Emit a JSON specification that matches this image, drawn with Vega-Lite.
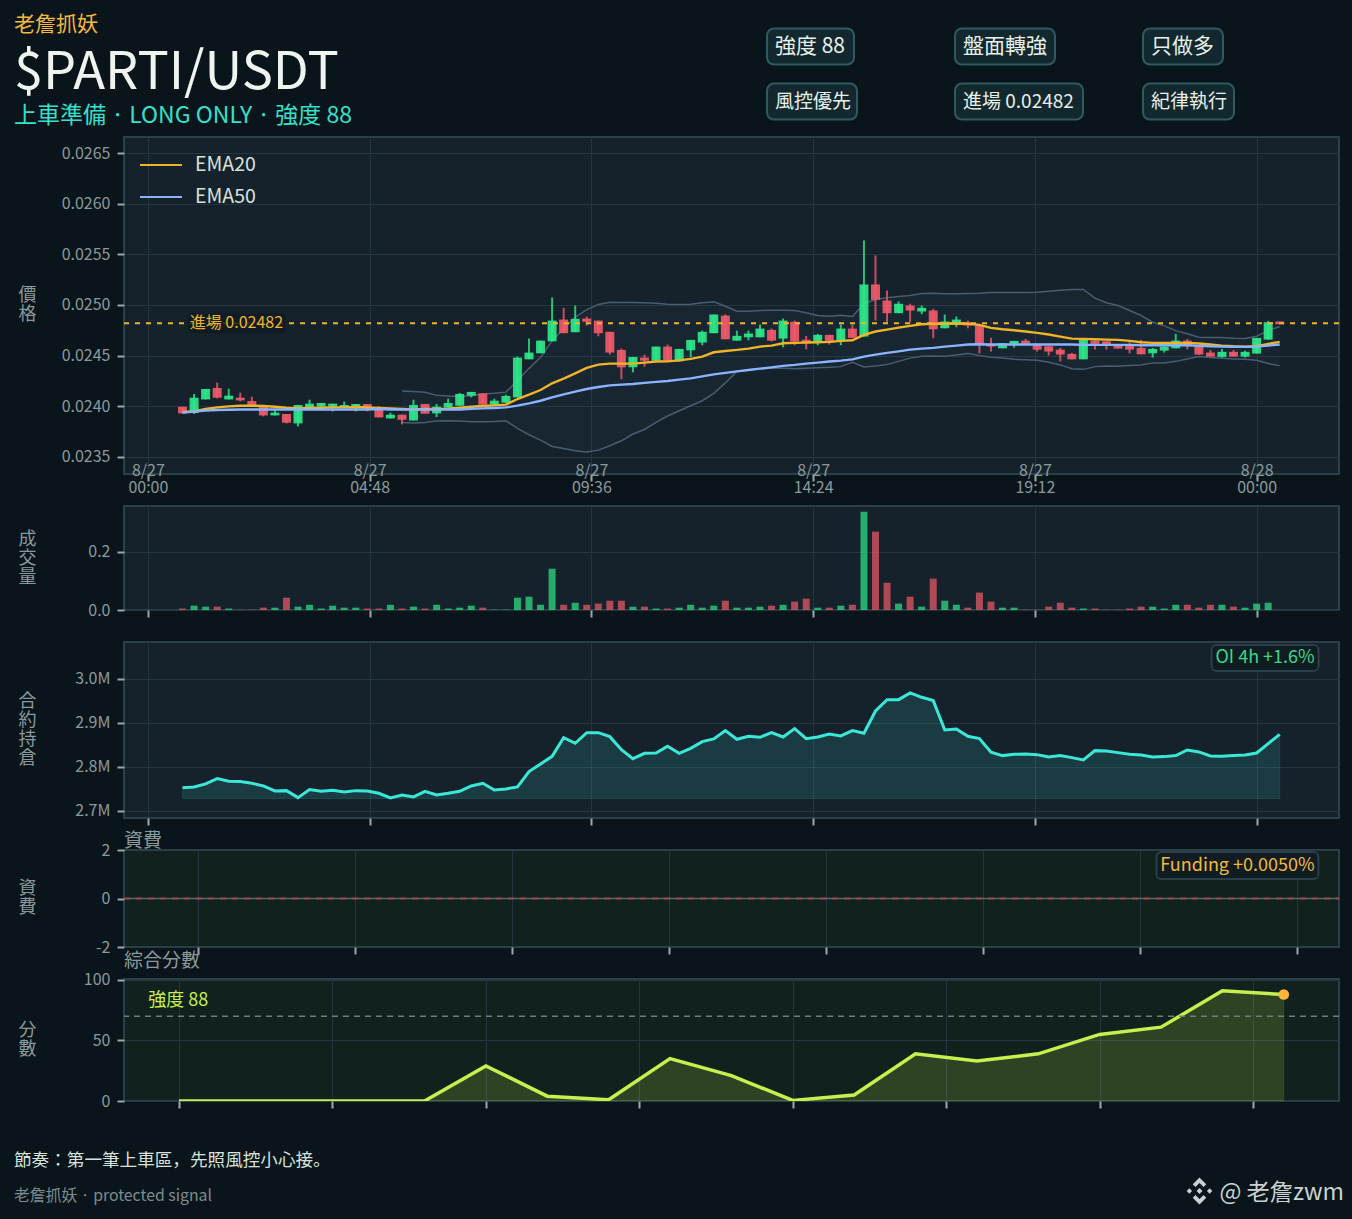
{
  "$schema": "https://vega.github.io/schema/vega-lite/v6.json",
  "background": "#0a141b",
  "padding": {"left": 14, "top": 0, "right": 8, "bottom": 0},
  "bounds": "flush",
  "spacing": 32,
  "config": {
    "font": "Noto Sans CJK JP",
    "view": {"fill": "#15222b", "stroke": "#2a3f47", "strokeWidth": 2},
    "axis": {
      "domain": false,
      "labelColor": "#8a9a9c",
      "labelFontSize": 16,
      "labelPadding": 7,
      "tickColor": "#9aa8a8",
      "tickSize": 7,
      "tickWidth": 2,
      "gridColor": "#233640",
      "gridWidth": 1,
      "titleColor": "#8a9a9c",
      "titleFontSize": 18,
      "titleFontWeight": "normal",
      "titleLineHeight": 19,
      "labelOverlap": false,
      "labelBound": false,
      "labelFlush": false
    },
    "axisY": {"titleAngle": 0, "titleX": -97, "titleAlign": "center", "titleBaseline": "middle"},
    "title": {"anchor": "start", "frame": "group", "fontSize": 19, "fontWeight": "normal", "color": "#8a9a9c"}
  },
  "datasets": {
    "bars": [
      {"t":"2025-08-27T00:45","o":0.023995,"h":0.023995,"l":0.023929,"c":0.023929,"v":0.005,"e20":0.023943,"e50":0.023936,"oi":2.753},
      {"t":"2025-08-27T01:00","o":0.023933,"h":0.024121,"l":0.023923,"c":0.024084,"v":0.015,"e20":0.023948,"e50":0.023948,"oi":2.7545},
      {"t":"2025-08-27T01:15","o":0.024067,"h":0.02417,"l":0.024067,"c":0.02417,"v":0.0115,"e20":0.023972,"e50":0.023958,"oi":2.7614},
      {"t":"2025-08-27T01:30","o":0.02418,"h":0.024233,"l":0.024077,"c":0.024084,"v":0.0115,"e20":0.023988,"e50":0.023962,"oi":2.7735},
      {"t":"2025-08-27T01:45","o":0.024067,"h":0.024173,"l":0.024067,"c":0.024104,"v":0.005,"e20":0.023998,"e50":0.023965,"oi":2.7674},
      {"t":"2025-08-27T02:00","o":0.024084,"h":0.024134,"l":0.024047,"c":0.024057,"v":0.001,"e20":0.024005,"e50":0.023968,"oi":2.7667},
      {"t":"2025-08-27T02:15","o":0.024051,"h":0.024094,"l":0.023995,"c":0.024002,"v":0.001,"e20":0.024005,"e50":0.023968,"oi":2.7629},
      {"t":"2025-08-27T02:30","o":0.024008,"h":0.024008,"l":0.023899,"c":0.023909,"v":0.008,"e20":0.024002,"e50":0.023968,"oi":2.7568},
      {"t":"2025-08-27T02:45","o":0.023909,"h":0.023962,"l":0.023909,"c":0.023936,"v":0.008,"e20":0.023995,"e50":0.023968,"oi":2.7455},
      {"t":"2025-08-27T03:00","o":0.023923,"h":0.023923,"l":0.02383,"c":0.023837,"v":0.0425,"e20":0.023985,"e50":0.023968,"oi":2.7462},
      {"t":"2025-08-27T03:15","o":0.02383,"h":0.024012,"l":0.0238,"c":0.024012,"v":0.0115,"e20":0.023978,"e50":0.023968,"oi":2.7303},
      {"t":"2025-08-27T03:30","o":0.023988,"h":0.024064,"l":0.023988,"c":0.024025,"v":0.018,"e20":0.023982,"e50":0.023968,"oi":2.7485},
      {"t":"2025-08-27T03:45","o":0.023995,"h":0.024032,"l":0.023995,"c":0.024032,"v":0.005,"e20":0.023985,"e50":0.023968,"oi":2.7447},
      {"t":"2025-08-27T04:00","o":0.023995,"h":0.024025,"l":0.023948,"c":0.024025,"v":0.015,"e20":0.023988,"e50":0.023968,"oi":2.747},
      {"t":"2025-08-27T04:15","o":0.023988,"h":0.024045,"l":0.023988,"c":0.024012,"v":0.008,"e20":0.023988,"e50":0.023968,"oi":2.7432},
      {"t":"2025-08-27T04:30","o":0.023988,"h":0.024022,"l":0.023948,"c":0.024022,"v":0.008,"e20":0.023992,"e50":0.023968,"oi":2.7462},
      {"t":"2025-08-27T04:45","o":0.024022,"h":0.024022,"l":0.023948,"c":0.023978,"v":0.005,"e20":0.023988,"e50":0.023968,"oi":2.7455},
      {"t":"2025-08-27T05:00","o":0.023988,"h":0.024002,"l":0.023889,"c":0.023889,"v":0.005,"e20":0.023982,"e50":0.023972,"oi":2.7402},
      {"t":"2025-08-27T05:15","o":0.023879,"h":0.023936,"l":0.023879,"c":0.023916,"v":0.018,"e20":0.023978,"e50":0.023968,"oi":2.7295},
      {"t":"2025-08-27T05:30","o":0.023916,"h":0.023916,"l":0.02382,"c":0.023866,"v":0.005,"e20":0.023972,"e50":0.023968,"bu":0.02415,"bl":0.02384,"oi":2.7364},
      {"t":"2025-08-27T05:45","o":0.023859,"h":0.024064,"l":0.023859,"c":0.024012,"v":0.0115,"e20":0.023968,"e50":0.023968,"bu":0.024146,"bl":0.023834,"oi":2.7318},
      {"t":"2025-08-27T06:00","o":0.024022,"h":0.024022,"l":0.023926,"c":0.023926,"v":0.005,"e20":0.023972,"e50":0.023968,"bu":0.024137,"bl":0.02384,"oi":2.7447},
      {"t":"2025-08-27T06:15","o":0.023929,"h":0.024022,"l":0.023893,"c":0.023995,"v":0.018,"e20":0.023972,"e50":0.023968,"bu":0.024107,"bl":0.023853,"oi":2.7364},
      {"t":"2025-08-27T06:30","o":0.023985,"h":0.024074,"l":0.023985,"c":0.024032,"v":0.005,"e20":0.023975,"e50":0.023968,"bu":0.024101,"bl":0.023856,"oi":2.7402},
      {"t":"2025-08-27T06:45","o":0.024005,"h":0.024131,"l":0.024005,"c":0.024121,"v":0.008,"e20":0.023985,"e50":0.023968,"bu":0.024097,"bl":0.023853,"oi":2.7447},
      {"t":"2025-08-27T07:00","o":0.024104,"h":0.024141,"l":0.024087,"c":0.024141,"v":0.015,"e20":0.023995,"e50":0.023975,"bu":0.024104,"bl":0.023847,"oi":2.7568},
      {"t":"2025-08-27T07:15","o":0.024127,"h":0.024127,"l":0.024015,"c":0.024015,"v":0.008,"e20":0.024002,"e50":0.023978,"bu":0.024121,"bl":0.023847,"oi":2.7629},
      {"t":"2025-08-27T07:30","o":0.024015,"h":0.024074,"l":0.024015,"c":0.024054,"v":0.001,"e20":0.024008,"e50":0.023982,"bu":0.024127,"bl":0.023849,"oi":2.7477},
      {"t":"2025-08-27T07:45","o":0.024035,"h":0.024114,"l":0.024035,"c":0.024101,"v":0.001,"e20":0.024015,"e50":0.023988,"bu":0.024139,"bl":0.023856,"oi":2.75},
      {"t":"2025-08-27T08:00","o":0.024087,"h":0.02449,"l":0.024087,"c":0.02448,"v":0.0425,"e20":0.024071,"e50":0.024005,"bu":0.024252,"bl":0.02378,"oi":2.7545},
      {"t":"2025-08-27T08:15","o":0.024463,"h":0.024668,"l":0.024463,"c":0.02453,"v":0.046,"e20":0.024114,"e50":0.024028,"bu":0.024374,"bl":0.023718,"oi":2.7894},
      {"t":"2025-08-27T08:30","o":0.024523,"h":0.024648,"l":0.024523,"c":0.024648,"v":0.018,"e20":0.02416,"e50":0.024054,"bu":0.024483,"bl":0.023665,"oi":2.8068},
      {"t":"2025-08-27T08:45","o":0.024641,"h":0.025074,"l":0.024641,"c":0.024846,"v":0.1425,"e20":0.024226,"e50":0.024087,"bu":0.024648,"bl":0.023602,"oi":2.8242},
      {"t":"2025-08-27T09:00","o":0.024856,"h":0.024972,"l":0.024721,"c":0.024721,"v":0.018,"e20":0.024272,"e50":0.024117,"bu":0.024767,"bl":0.023582,"oi":2.8667},
      {"t":"2025-08-27T09:15","o":0.024731,"h":0.024995,"l":0.024731,"c":0.024863,"v":0.025,"e20":0.024325,"e50":0.024144,"bu":0.024879,"bl":0.023559,"oi":2.8538},
      {"t":"2025-08-27T09:30","o":0.024866,"h":0.024886,"l":0.024797,"c":0.024834,"v":0.018,"e20":0.024378,"e50":0.02417,"bu":0.024955,"bl":0.023547,"oi":2.878},
      {"t":"2025-08-27T09:45","o":0.024846,"h":0.024846,"l":0.024691,"c":0.024721,"v":0.022,"e20":0.024411,"e50":0.02419,"bu":0.025005,"bl":0.023566,"oi":2.878},
      {"t":"2025-08-27T10:00","o":0.024735,"h":0.024735,"l":0.02451,"c":0.02453,"v":0.032,"e20":0.024421,"e50":0.024206,"bu":0.025028,"bl":0.023609,"oi":2.8689},
      {"t":"2025-08-27T10:15","o":0.024556,"h":0.024569,"l":0.024265,"c":0.024384,"v":0.032,"e20":0.024421,"e50":0.024213,"bu":0.025025,"bl":0.023658,"oi":2.8394},
      {"t":"2025-08-27T10:30","o":0.024384,"h":0.024487,"l":0.024335,"c":0.024487,"v":0.0115,"e20":0.024421,"e50":0.02422,"bu":0.025025,"bl":0.023725,"oi":2.8189},
      {"t":"2025-08-27T10:45","o":0.02448,"h":0.02451,"l":0.024391,"c":0.02445,"v":0.0115,"e20":0.024431,"e50":0.02423,"bu":0.025022,"bl":0.02377,"oi":2.8311},
      {"t":"2025-08-27T11:00","o":0.02445,"h":0.024589,"l":0.02445,"c":0.024589,"v":0.005,"e20":0.024441,"e50":0.02424,"bu":0.025018,"bl":0.02384,"oi":2.8318},
      {"t":"2025-08-27T11:15","o":0.024589,"h":0.024609,"l":0.02445,"c":0.02445,"v":0.005,"e20":0.024443,"e50":0.024249,"bu":0.025008,"bl":0.023903,"oi":2.847},
      {"t":"2025-08-27T11:30","o":0.024443,"h":0.024566,"l":0.024443,"c":0.024566,"v":0.008,"e20":0.024453,"e50":0.024262,"bu":0.025005,"bl":0.023955,"oi":2.8311},
      {"t":"2025-08-27T11:45","o":0.024552,"h":0.024655,"l":0.024483,"c":0.024655,"v":0.018,"e20":0.024467,"e50":0.024275,"bu":0.025008,"bl":0.024005,"oi":2.8424},
      {"t":"2025-08-27T12:00","o":0.024629,"h":0.024747,"l":0.024602,"c":0.024735,"v":0.008,"e20":0.02449,"e50":0.024295,"bu":0.025022,"bl":0.024054,"oi":2.8576},
      {"t":"2025-08-27T12:15","o":0.024721,"h":0.024906,"l":0.024721,"c":0.024906,"v":0.015,"e20":0.024533,"e50":0.024315,"bu":0.025032,"bl":0.024127,"oi":2.8636},
      {"t":"2025-08-27T12:30","o":0.024896,"h":0.024906,"l":0.024661,"c":0.024661,"v":0.032,"e20":0.024546,"e50":0.024329,"bu":0.024988,"bl":0.02423,"oi":2.8826},
      {"t":"2025-08-27T12:45","o":0.024648,"h":0.024747,"l":0.024648,"c":0.024695,"v":0.008,"e20":0.024556,"e50":0.024344,"bu":0.024938,"bl":0.024344,"oi":2.8629},
      {"t":"2025-08-27T13:00","o":0.024681,"h":0.024747,"l":0.024651,"c":0.024718,"v":0.008,"e20":0.024569,"e50":0.024358,"bu":0.024938,"bl":0.024358,"oi":2.8697},
      {"t":"2025-08-27T13:15","o":0.024681,"h":0.024807,"l":0.024681,"c":0.024767,"v":0.0115,"e20":0.024589,"e50":0.024371,"bu":0.024945,"bl":0.024371,"oi":2.8674},
      {"t":"2025-08-27T13:30","o":0.024754,"h":0.024767,"l":0.024639,"c":0.024648,"v":0.015,"e20":0.024599,"e50":0.024384,"bu":0.024948,"bl":0.024378,"oi":2.878},
      {"t":"2025-08-27T13:45","o":0.024668,"h":0.024866,"l":0.024582,"c":0.024846,"v":0.018,"e20":0.024622,"e50":0.024398,"bu":0.024948,"bl":0.024375,"oi":2.8682},
      {"t":"2025-08-27T14:00","o":0.024834,"h":0.024846,"l":0.024602,"c":0.024639,"v":0.029,"e20":0.024626,"e50":0.024408,"bu":0.024945,"bl":0.024371,"oi":2.8871},
      {"t":"2025-08-27T14:15","o":0.024658,"h":0.024695,"l":0.024562,"c":0.024629,"v":0.039,"e20":0.024629,"e50":0.024421,"bu":0.024923,"bl":0.024375,"oi":2.8644},
      {"t":"2025-08-27T14:30","o":0.024629,"h":0.024715,"l":0.024602,"c":0.024705,"v":0.008,"e20":0.024632,"e50":0.024431,"bu":0.024896,"bl":0.024381,"oi":2.8682},
      {"t":"2025-08-27T14:45","o":0.024705,"h":0.024705,"l":0.024609,"c":0.024629,"v":0.008,"e20":0.024636,"e50":0.024441,"bu":0.024889,"bl":0.024384,"oi":2.875},
      {"t":"2025-08-27T15:00","o":0.024648,"h":0.024807,"l":0.024602,"c":0.024767,"v":0.015,"e20":0.024645,"e50":0.02445,"bu":0.024899,"bl":0.024391,"oi":2.8705},
      {"t":"2025-08-27T15:15","o":0.024767,"h":0.024807,"l":0.024675,"c":0.024675,"v":0.018,"e20":0.024651,"e50":0.024463,"bu":0.024886,"bl":0.024434,"oi":2.8826},
      {"t":"2025-08-27T15:30","o":0.024688,"h":0.025638,"l":0.024688,"c":0.025203,"v":0.339,"e20":0.024705,"e50":0.02449,"bu":0.025012,"bl":0.024388,"oi":2.8765},
      {"t":"2025-08-27T15:45","o":0.025203,"h":0.02549,"l":0.024846,"c":0.025051,"v":0.27,"e20":0.024738,"e50":0.02451,"bu":0.025054,"bl":0.024398,"oi":2.9273},
      {"t":"2025-08-27T16:00","o":0.025044,"h":0.025143,"l":0.024827,"c":0.024919,"v":0.094,"e20":0.024757,"e50":0.024527,"bu":0.025071,"bl":0.024411,"oi":2.953},
      {"t":"2025-08-27T16:15","o":0.024919,"h":0.025035,"l":0.024919,"c":0.025012,"v":0.022,"e20":0.024777,"e50":0.024542,"bu":0.025084,"bl":0.024443,"oi":2.953},
      {"t":"2025-08-27T16:30","o":0.024995,"h":0.025012,"l":0.02483,"c":0.024945,"v":0.046,"e20":0.024794,"e50":0.024559,"bu":0.025094,"bl":0.024475,"oi":2.9682},
      {"t":"2025-08-27T16:45","o":0.024936,"h":0.024995,"l":0.024909,"c":0.024972,"v":0.0115,"e20":0.02481,"e50":0.024569,"bu":0.025114,"bl":0.024493,"oi":2.9583},
      {"t":"2025-08-27T17:00","o":0.024945,"h":0.024962,"l":0.024671,"c":0.02476,"v":0.108,"e20":0.024814,"e50":0.024576,"bu":0.025117,"bl":0.024497,"oi":2.9508},
      {"t":"2025-08-27T17:15","o":0.02477,"h":0.024906,"l":0.02477,"c":0.024837,"v":0.032,"e20":0.024814,"e50":0.024589,"bu":0.025111,"bl":0.024493,"oi":2.8841},
      {"t":"2025-08-27T17:30","o":0.024814,"h":0.024886,"l":0.02478,"c":0.024856,"v":0.018,"e20":0.024817,"e50":0.024599,"bu":0.025111,"bl":0.024507,"oi":2.8864},
      {"t":"2025-08-27T17:45","o":0.02483,"h":0.024846,"l":0.02477,"c":0.024797,"v":0.008,"e20":0.024814,"e50":0.024609,"bu":0.025114,"bl":0.02452,"oi":2.8697},
      {"t":"2025-08-27T18:00","o":0.024797,"h":0.024797,"l":0.024523,"c":0.024616,"v":0.06,"e20":0.024804,"e50":0.024612,"bu":0.025117,"bl":0.0245,"oi":2.8644},
      {"t":"2025-08-27T18:15","o":0.024609,"h":0.024675,"l":0.02454,"c":0.024589,"v":0.029,"e20":0.024774,"e50":0.024609,"bu":0.025124,"bl":0.024483,"oi":2.8333},
      {"t":"2025-08-27T18:30","o":0.024572,"h":0.024622,"l":0.024572,"c":0.024622,"v":0.008,"e20":0.02476,"e50":0.024609,"bu":0.025124,"bl":0.024477,"oi":2.8258},
      {"t":"2025-08-27T18:45","o":0.024616,"h":0.024645,"l":0.024579,"c":0.024645,"v":0.008,"e20":0.02475,"e50":0.024609,"bu":0.025124,"bl":0.024463,"oi":2.8288},
      {"t":"2025-08-27T19:00","o":0.024648,"h":0.024665,"l":0.024616,"c":0.024616,"v":0.001,"e20":0.024738,"e50":0.024609,"bu":0.025124,"bl":0.02446,"oi":2.8295},
      {"t":"2025-08-27T19:15","o":0.024616,"h":0.024616,"l":0.02454,"c":0.024559,"v":0.001,"e20":0.024725,"e50":0.024609,"bu":0.025127,"bl":0.024453,"oi":2.828},
      {"t":"2025-08-27T19:30","o":0.024592,"h":0.024592,"l":0.0245,"c":0.02454,"v":0.0115,"e20":0.024708,"e50":0.024609,"bu":0.025136,"bl":0.024434,"oi":2.8227},
      {"t":"2025-08-27T19:45","o":0.024559,"h":0.024576,"l":0.024443,"c":0.02451,"v":0.025,"e20":0.024688,"e50":0.024609,"bu":0.025146,"bl":0.024408,"oi":2.8258},
      {"t":"2025-08-27T20:00","o":0.024517,"h":0.024527,"l":0.024463,"c":0.024463,"v":0.008,"e20":0.024668,"e50":0.024609,"bu":0.025153,"bl":0.024371,"oi":2.8212},
      {"t":"2025-08-27T20:15","o":0.024463,"h":0.024655,"l":0.024463,"c":0.024655,"v":0.005,"e20":0.024665,"e50":0.024606,"bu":0.025153,"bl":0.024364,"oi":2.8159},
      {"t":"2025-08-27T20:30","o":0.024648,"h":0.024648,"l":0.024559,"c":0.024616,"v":0.005,"e20":0.024661,"e50":0.024606,"bu":0.025067,"bl":0.024391,"oi":2.8371},
      {"t":"2025-08-27T20:45","o":0.024641,"h":0.024641,"l":0.024559,"c":0.024609,"v":0.001,"e20":0.024658,"e50":0.024606,"bu":0.025022,"bl":0.024398,"oi":2.8364},
      {"t":"2025-08-27T21:00","o":0.024609,"h":0.024609,"l":0.024569,"c":0.024569,"v":0.001,"e20":0.024655,"e50":0.024606,"bu":0.024995,"bl":0.024394,"oi":2.8326},
      {"t":"2025-08-27T21:15","o":0.024599,"h":0.024632,"l":0.024523,"c":0.024559,"v":0.005,"e20":0.024645,"e50":0.024606,"bu":0.024945,"bl":0.024401,"oi":2.8288},
      {"t":"2025-08-27T21:30","o":0.024576,"h":0.024655,"l":0.024513,"c":0.024513,"v":0.0115,"e20":0.024632,"e50":0.024602,"bu":0.024896,"bl":0.024408,"oi":2.8273},
      {"t":"2025-08-27T21:45","o":0.024523,"h":0.024576,"l":0.02448,"c":0.024566,"v":0.0115,"e20":0.024626,"e50":0.024602,"bu":0.02483,"bl":0.024428,"oi":2.8227},
      {"t":"2025-08-27T22:00","o":0.024549,"h":0.024589,"l":0.02453,"c":0.024589,"v":0.005,"e20":0.024626,"e50":0.024602,"bu":0.024794,"bl":0.024428,"oi":2.8235},
      {"t":"2025-08-27T22:15","o":0.024572,"h":0.024715,"l":0.024572,"c":0.024648,"v":0.018,"e20":0.024626,"e50":0.024602,"bu":0.024747,"bl":0.024443,"oi":2.8258},
      {"t":"2025-08-27T22:30","o":0.024648,"h":0.024665,"l":0.024562,"c":0.024599,"v":0.018,"e20":0.024626,"e50":0.024602,"bu":0.024715,"bl":0.024467,"oi":2.8386},
      {"t":"2025-08-27T22:45","o":0.024589,"h":0.024589,"l":0.02451,"c":0.02451,"v":0.008,"e20":0.024619,"e50":0.024596,"bu":0.024681,"bl":0.02449,"oi":2.8341},
      {"t":"2025-08-27T23:00","o":0.02453,"h":0.024556,"l":0.02449,"c":0.02449,"v":0.018,"e20":0.024609,"e50":0.024592,"bu":0.024678,"bl":0.02448,"oi":2.825},
      {"t":"2025-08-27T23:15","o":0.024487,"h":0.024566,"l":0.02448,"c":0.024537,"v":0.018,"e20":0.024599,"e50":0.024589,"bu":0.024678,"bl":0.024473,"oi":2.8242},
      {"t":"2025-08-27T23:30","o":0.024537,"h":0.024556,"l":0.02449,"c":0.02449,"v":0.0115,"e20":0.024592,"e50":0.024586,"bu":0.024671,"bl":0.024467,"oi":2.8258},
      {"t":"2025-08-27T23:45","o":0.02449,"h":0.024549,"l":0.02448,"c":0.024537,"v":0.008,"e20":0.024589,"e50":0.024586,"bu":0.024668,"bl":0.024463,"oi":2.8273},
      {"t":"2025-08-28T00:00","o":0.02452,"h":0.024675,"l":0.02452,"c":0.024675,"v":0.022,"e20":0.024592,"e50":0.024589,"bu":0.024691,"bl":0.024453,"oi":2.8318},
      {"t":"2025-08-28T00:15","o":0.024658,"h":0.024843,"l":0.024658,"c":0.02483,"v":0.025,"e20":0.024616,"e50":0.024599,"bu":0.024747,"bl":0.024421,"oi":2.853},
      {"t":"2025-08-28T00:30","o":0.024837,"h":0.024837,"l":0.02481,"c":0.02481,"v":0,"e20":0.024636,"e50":0.024609,"bu":0.024787,"bl":0.024401,"oi":2.8742}
    ]
  },
  "vconcat": [
    {
      "width": 1215,
      "height": 105,
      "view": {"fill": null, "stroke": null},
      "layer": [
        {
          "data": {"values": [
            {"slot": "left", "role": "brand", "text": "老詹抓妖"},
            {"slot": "left", "role": "pair", "text": "$PARTI/USDT"},
            {"slot": "left", "role": "status", "text": "上車準備 · LONG ONLY · 強度 88"}
          ]},
          "encoding": {
            "x": {"field": "slot", "type": "nominal", "axis": null, "scale": {"type": "point", "padding": 0, "domain": ["left"], "range": [-110, -110]}},
            "y": {"field": "role", "type": "nominal", "axis": null, "scale": {"type": "point", "padding": 0, "domain": ["brand", "pair", "status"], "range": [25, 116]}},
            "text": {"field": "text"}
          },
          "layer": [
            {"transform": [{"filter": "datum.role == 'brand'"}], "mark": {"type": "text", "align": "left", "baseline": "middle", "fontSize": 21, "color": "#f5b83d"}},
            {"transform": [{"filter": "datum.role == 'pair'"}], "mark": {"type": "text", "align": "left", "baseline": "middle", "yOffset": 2, "fontSize": 52.3, "color": "#eef5ef"}},
            {"transform": [{"filter": "datum.role == 'status'"}], "mark": {"type": "text", "align": "left", "baseline": "middle", "fontSize": 23, "color": "#35e0cc"}}
          ]
        },
        {
          "data": {"values": [
            {"col": "c1", "row": "r1", "label": "強度 88"},
            {"col": "c2", "row": "r1", "label": "盤面轉強"},
            {"col": "c3", "row": "r1", "label": "只做多"},
            {"col": "c1", "row": "r2", "label": "風控優先"},
            {"col": "c2", "row": "r2", "label": "進場 0.02482"},
            {"col": "c3", "row": "r2", "label": "紀律執行"}
          ]},
          "encoding": {
            "x": {"field": "col", "type": "nominal", "axis": null, "scale": {"type": "point", "padding": 0, "domain": ["c1", "c2", "c3"], "range": [643, 1019]}},
            "y": {"field": "row", "type": "nominal", "axis": null, "scale": {"type": "point", "padding": 0, "domain": ["r1", "r2"], "range": [46.5, 101.5]}}
          },
          "layer": [
            {"transform": [{"filter": "datum.label == '強度 88'"}], "mark": {"type": "rect", "width": 87, "height": 36, "xOffset": 43.5, "cornerRadius": 7, "fill": "#13282e", "stroke": "#2f5a5f", "strokeWidth": 2}},
            {"transform": [{"filter": "datum.label == '盤面轉強'"}], "mark": {"type": "rect", "width": 100, "height": 36, "xOffset": 50, "cornerRadius": 7, "fill": "#13282e", "stroke": "#2f5a5f", "strokeWidth": 2}},
            {"transform": [{"filter": "datum.label == '只做多'"}], "mark": {"type": "rect", "width": 80, "height": 36, "xOffset": 40, "cornerRadius": 7, "fill": "#13282e", "stroke": "#2f5a5f", "strokeWidth": 2}},
            {"transform": [{"filter": "datum.label == '風控優先'"}], "mark": {"type": "rect", "width": 90, "height": 36, "xOffset": 45, "cornerRadius": 7, "fill": "#13282e", "stroke": "#2f5a5f", "strokeWidth": 2}},
            {"transform": [{"filter": "datum.label == '進場 0.02482'"}], "mark": {"type": "rect", "width": 128, "height": 36, "xOffset": 64, "cornerRadius": 7, "fill": "#13282e", "stroke": "#2f5a5f", "strokeWidth": 2}},
            {"transform": [{"filter": "datum.label == '紀律執行'"}], "mark": {"type": "rect", "width": 91, "height": 36, "xOffset": 45.5, "cornerRadius": 7, "fill": "#13282e", "stroke": "#2f5a5f", "strokeWidth": 2}},
            {"transform": [{"filter": "datum.row == 'r1'"}], "mark": {"type": "text", "align": "left", "baseline": "middle", "xOffset": 8, "fontSize": 21, "color": "#e8f0ea"}, "encoding": {"text": {"field": "label"}}},
            {"transform": [{"filter": "datum.row == 'r2'"}], "mark": {"type": "text", "align": "left", "baseline": "middle", "xOffset": 8, "fontSize": 19, "color": "#e8f0ea"}, "encoding": {"text": {"field": "label"}}}
          ]
        }
      ],
      "resolve": {"scale": {"x": "independent", "y": "independent"}}
    },
    {
      "width": 1215,
      "height": 337,
      "layer": [
        {
          "data": {"name": "bars"},
          "encoding": {
            "x": {
              "field": "t", "type": "temporal",
              "scale": {"nice": false, "padding": 0, "domain": [{"year": 2025, "month": 8, "date": 26, "hours": 23, "minutes": 29}, {"year": 2025, "month": 8, "date": 28, "hours": 1, "minutes": 47}]},
              "axis": {
                "title": null,
                "grid": true,
                "values": [{"year": 2025, "month": 8, "date": 27, "hours": 0}, {"year": 2025, "month": 8, "date": 27, "hours": 4, "minutes": 48}, {"year": 2025, "month": 8, "date": 27, "hours": 9, "minutes": 36}, {"year": 2025, "month": 8, "date": 27, "hours": 14, "minutes": 24}, {"year": 2025, "month": 8, "date": 27, "hours": 19, "minutes": 12}, {"year": 2025, "month": 8, "date": 28, "hours": 0}],
                "labelExpr": "[timeFormat(datum.value, '%-m/%-d'), timeFormat(datum.value, '%H:%M')]",
                "labelPadding": -19,
                "labelLineHeight": 17
              }
            }
          },
          "layer": [
            {
              "mark": {"type": "area", "fill": "#8ab4ff", "opacity": 0.03},
              "encoding": {
                "y": {"field": "bl", "type": "quantitative", "scale": {"domain": [0.02333, 0.02666], "nice": false, "zero": false}, "axis": {"title": ["價", "格"], "values": [0.0235, 0.024, 0.0245, 0.025, 0.0255, 0.026, 0.0265], "format": ".4f", "titleY": 158.5, "grid": true}},
                "y2": {"field": "bu"}
              }
            },
            {"mark": {"type": "line", "color": "#4a5d70", "strokeWidth": 1.5}, "encoding": {"y": {"field": "bu", "type": "quantitative"}}},
            {"mark": {"type": "line", "color": "#4a5d70", "strokeWidth": 1.5}, "encoding": {"y": {"field": "bl", "type": "quantitative"}}},
            {
              "mark": {"type": "rule", "strokeWidth": 2, "opacity": 0.8},
              "encoding": {
                "y": {"field": "l", "type": "quantitative"},
                "y2": {"field": "h"},
                "color": {"condition": {"test": "datum.c >= datum.o", "value": "#2ee88a"}, "value": "#f05a6a"}
              }
            },
            {
              "mark": {"type": "bar", "size": 9, "opacity": 0.92},
              "encoding": {
                "y": {"field": "o", "type": "quantitative"},
                "y2": {"field": "c"},
                "color": {"condition": {"test": "datum.c >= datum.o", "value": "#2ee88a"}, "value": "#f05a6a"}
              }
            },
            {
              "mark": {"type": "line", "strokeWidth": 2.4},
              "encoding": {
                "y": {"field": "e20", "type": "quantitative"},
                "color": {"datum": "EMA20", "type": "nominal", "scale": {"domain": ["EMA20", "EMA50"], "range": ["#f0b429", "#8ab4ff"]}, "legend": {"title": null, "orient": "none", "legendX": 15, "legendY": 143, "symbolType": "stroke", "symbolSize": 1764, "symbolStrokeWidth": 2, "labelFontSize": 19.5, "labelColor": "#d8e2dc", "labelOffset": 12, "rowPadding": -5}}
              }
            },
            {
              "mark": {"type": "line", "strokeWidth": 2.4},
              "encoding": {
                "y": {"field": "e50", "type": "quantitative"},
                "color": {"datum": "EMA50", "type": "nominal", "scale": {"domain": ["EMA20", "EMA50"], "range": ["#f0b429", "#8ab4ff"]}, "legend": {"title": null, "orient": "none", "legendX": 15, "legendY": 143, "symbolType": "stroke", "symbolSize": 1764, "symbolStrokeWidth": 2, "labelFontSize": 19.5, "labelColor": "#d8e2dc", "labelOffset": 12, "rowPadding": -5}}
              }
            }
          ]
        },
        {
          "data": {"values": [{"entry": 0.02482}]},
          "mark": {"type": "rule", "color": "#f0b429", "strokeWidth": 2, "strokeDash": [5, 6]},
          "encoding": {"y": {"field": "entry", "type": "quantitative"}}
        },
        {
          "data": {"values": [{"t": "2025-08-27T01:55", "entry": 0.02482, "label": "進場 0.02482"}]},
          "encoding": {
            "x": {"field": "t", "type": "temporal"},
            "y": {"field": "entry", "type": "quantitative"}
          },
          "layer": [
            {"mark": {"type": "rect", "width": 98, "height": 20, "cornerRadius": 3, "fill": "#0f1b22", "opacity": 0.85}},
            {"mark": {"type": "text", "fontSize": 16, "color": "#f0b429", "baseline": "middle"}, "encoding": {"text": {"field": "label"}}}
          ]
        }
      ]
    },
    {
      "width": 1215,
      "height": 104,
      "data": {"name": "bars"},
      "mark": {"type": "bar", "size": 7, "opacity": 0.7},
      "encoding": {
        "x": {
          "field": "t", "type": "temporal", "title": null,
          "scale": {"nice": false, "padding": 0, "domain": [{"year": 2025, "month": 8, "date": 26, "hours": 23, "minutes": 29}, {"year": 2025, "month": 8, "date": 28, "hours": 1, "minutes": 47}]},
          "axis": {"grid": true, "labels": false, "values": [{"year": 2025, "month": 8, "date": 27, "hours": 0}, {"year": 2025, "month": 8, "date": 27, "hours": 4, "minutes": 48}, {"year": 2025, "month": 8, "date": 27, "hours": 9, "minutes": 36}, {"year": 2025, "month": 8, "date": 27, "hours": 14, "minutes": 24}, {"year": 2025, "month": 8, "date": 27, "hours": 19, "minutes": 12}, {"year": 2025, "month": 8, "date": 28, "hours": 0}]}
        },
        "y": {"field": "v", "type": "quantitative", "title": ["成", "交", "量"], "scale": {"domain": [0, 0.3586], "nice": false}, "axis": {"values": [0, 0.2], "format": ".1f", "titleY": 33.5, "grid": true}},
        "color": {"condition": {"test": "datum.c >= datum.o", "value": "#2ee88a"}, "value": "#f05a6a"}
      }
    },
    {
      "width": 1215,
      "height": 176,
      "layer": [
        {
          "data": {"name": "bars"},
          "encoding": {
            "x": {
              "field": "t", "type": "temporal",
              "scale": {"nice": false, "domain": [{"year": 2025, "month": 8, "date": 26, "hours": 23, "minutes": 29}, {"year": 2025, "month": 8, "date": 28, "hours": 1, "minutes": 47}]},
              "axis": {"title": null, "grid": true, "labels": false, "values": [{"year": 2025, "month": 8, "date": 27, "hours": 0}, {"year": 2025, "month": 8, "date": 27, "hours": 4, "minutes": 48}, {"year": 2025, "month": 8, "date": 27, "hours": 9, "minutes": 36}, {"year": 2025, "month": 8, "date": 27, "hours": 14, "minutes": 24}, {"year": 2025, "month": 8, "date": 27, "hours": 19, "minutes": 12}, {"year": 2025, "month": 8, "date": 28, "hours": 0}]}
            },
            "y": {"field": "oi", "type": "quantitative", "scale": {"domain": [2.684, 3.084], "nice": false, "zero": false}, "axis": {"title": ["合", "約", "持", "倉"], "values": [2.7, 2.8, 2.9, 3.0], "labelExpr": "format(datum.value, '.1f') + 'M'", "titleY": 59.5, "grid": true}}
          },
          "layer": [
            {"mark": {"type": "area", "fill": "#3be8d8", "fillOpacity": 0.13, "stroke": "#3be8d8", "strokeOpacity": 0.12, "strokeWidth": 1}, "encoding": {"y2": {"datum": 2.728}}},
            {"mark": {"type": "line", "color": "#3be8d8", "strokeWidth": 3}}
          ]
        },
        {
          "data": {"values": [{"t": "2025-08-28T00:11", "oi": 3.0477, "label": "OI 4h +1.6%"}]},
          "encoding": {
            "x": {"field": "t", "type": "temporal"},
            "y": {"field": "oi", "type": "quantitative"}
          },
          "layer": [
            {"mark": {"type": "rect", "width": 107, "height": 26, "cornerRadius": 5, "fill": "#0f1d22", "stroke": "#2a3f47", "strokeWidth": 2}},
            {"mark": {"type": "text", "fontSize": 18, "color": "#38d98a", "baseline": "middle"}, "encoding": {"text": {"field": "label"}}}
          ]
        }
      ]
    },
    {
      "width": 1215,
      "height": 97,
      "title": {"text": "資費", "offset": -9},
      "view": {"fill": "#11211d", "stroke": "#2a3f47", "strokeWidth": 2},
      "layer": [
        {
          "data": {"values": [{"zero": 0}]},
          "mark": {"type": "rule", "color": "#5c6a6a", "strokeWidth": 1.5},
          "encoding": {"y": {"field": "zero", "type": "quantitative"}}
        },
        {
          "data": {"values": [{"i": -0.47, "rate": 0.005}, {"i": 7.27, "rate": 0.005}]},
          "mark": {"type": "line", "color": "#a14550", "strokeWidth": 2, "strokeDash": [6, 6]},
          "encoding": {
            "x": {"field": "i", "type": "quantitative", "scale": {"domain": [-0.471, 7.267], "nice": false, "zero": false}, "axis": {"title": null, "grid": true, "labels": false, "values": [0, 1, 2, 3, 4, 5, 6, 7]}},
            "y": {"field": "rate", "type": "quantitative", "scale": {"domain": [-2, 2], "nice": false}, "axis": {"title": ["資", "費"], "values": [-2, 0, 2], "labelExpr": "'' + datum.value", "titleY": 38.5, "grid": false}}
          }
        },
        {
          "data": {"values": [{"i": 6.62, "rate": 1.36, "label": "Funding +0.0050%"}]},
          "encoding": {
            "x": {"field": "i", "type": "quantitative"},
            "y": {"field": "rate", "type": "quantitative"}
          },
          "layer": [
            {"mark": {"type": "rect", "width": 162, "height": 27, "cornerRadius": 5, "fill": "#0f1d22", "stroke": "#2a3f47", "strokeWidth": 2}},
            {"mark": {"type": "text", "fontSize": 18, "color": "#f5b83d", "baseline": "middle"}, "encoding": {"text": {"field": "label"}}}
          ]
        }
      ]
    },
    {
      "width": 1215,
      "height": 122,
      "title": {"text": "綜合分數", "offset": 1},
      "view": {"fill": "#11211d", "stroke": "#2a3f47", "strokeWidth": 2},
      "layer": [
        {
          "data": {"values": [
            {"i": 0, "score": 0}, {"i": 1, "score": 0}, {"i": 2, "score": 0}, {"i": 3, "score": 0}, {"i": 4, "score": 0},
            {"i": 5, "score": 29}, {"i": 6, "score": 4}, {"i": 7, "score": 1}, {"i": 8, "score": 35}, {"i": 9, "score": 21},
            {"i": 10, "score": 0.5}, {"i": 11, "score": 5}, {"i": 12, "score": 39}, {"i": 13, "score": 33}, {"i": 14, "score": 39},
            {"i": 15, "score": 55}, {"i": 16, "score": 61}, {"i": 17, "score": 91}, {"i": 18, "score": 88}
          ]},
          "encoding": {
            "x": {"field": "i", "type": "quantitative", "scale": {"domain": [-0.896, 18.9], "nice": false, "zero": false}, "axis": {"title": null, "grid": true, "labels": false, "values": [0, 2.5, 5, 7.5, 10, 12.5, 15, 17.5]}},
            "y": {"field": "score", "type": "quantitative", "scale": {"domain": [0, 100.8], "nice": false}, "axis": {"title": ["分", "數"], "values": [0, 50, 100], "titleY": 51.5, "grid": true}}
          },
          "layer": [
            {"mark": {"type": "area", "fill": "#c6f04d", "fillOpacity": 0.16, "stroke": "#c6f04d", "strokeOpacity": 0.12, "strokeWidth": 1}},
            {"mark": {"type": "line", "color": "#c6f04d", "strokeWidth": 3.5, "clip": true}},
            {"transform": [{"filter": "datum.i == 18"}], "mark": {"type": "point", "filled": true, "size": 113, "color": "#ffb43c", "opacity": 1}}
          ]
        },
        {
          "data": {"values": [{"line": 70}]},
          "mark": {"type": "rule", "color": "#6d7e7c", "strokeWidth": 1.5, "strokeDash": [6, 5]},
          "encoding": {"y": {"field": "line", "type": "quantitative"}}
        },
        {
          "data": {"values": [{"i": -0.5, "score": 83, "label": "強度 88"}]},
          "mark": {"type": "text", "align": "left", "baseline": "middle", "fontSize": 18, "color": "#c6f04d"},
          "encoding": {
            "x": {"field": "i", "type": "quantitative"},
            "y": {"field": "score", "type": "quantitative"},
            "text": {"field": "label"}
          }
        }
      ]
    },
    {
      "width": 1215,
      "height": 86,
      "view": {"fill": null, "stroke": null},
      "encoding": {
        "x": {"field": "slot", "type": "nominal", "axis": null, "scale": {"type": "point", "padding": 0, "domain": ["left", "right"], "range": [-110, 1220]}},
        "y": {"field": "row", "type": "nominal", "axis": null, "scale": {"type": "point", "padding": 0, "domain": ["rhythm", "brand"], "range": [28, 63]}}
      },
      "layer": [
        {
          "data": {"values": [{"slot": "left", "row": "rhythm", "text": "節奏：第一筆上車區，先照風控小心接。"}]},
          "mark": {"type": "text", "align": "left", "baseline": "middle", "fontSize": 17.6, "color": "#d8e2dc"},
          "encoding": {"text": {"field": "text"}}
        },
        {
          "data": {"values": [{"slot": "left", "row": "brand", "text": "老詹抓妖 · protected signal"}]},
          "mark": {"type": "text", "align": "left", "baseline": "middle", "fontSize": 15.8, "color": "#7e8c8e"},
          "encoding": {"text": {"field": "text"}}
        },
        {
          "data": {"values": [{"slot": "right", "row": "brand", "text": "@ 老詹zwm"}]},
          "mark": {"type": "text", "align": "right", "baseline": "middle", "fontSize": 23.2, "color": "#c9d2d2", "yOffset": -3},
          "encoding": {"text": {"field": "text"}}
        },
        {
          "data": {"values": [{"slot": "right", "row": "brand"}]},
          "mark": {"type": "point", "filled": true, "opacity": 1, "size": 729, "color": "#c9d2d2", "xOffset": -144.5, "yOffset": -5, "shape": "M0,-1L.5,-.5L.3,-.3L0,-.6L-.3,-.3L-.5,-.5ZM0,1L.5,.5L.3,.3L0,.6L-.3,.3L-.5,.5ZM0,-.22L.22,0L0,.22L-.22,0ZM-.75,-.2L-.55,0L-.75,.2L-.95,0ZM.75,-.2L.95,0L.75,.2L.55,0Z"}
        }
      ]
    }
  ]
}
